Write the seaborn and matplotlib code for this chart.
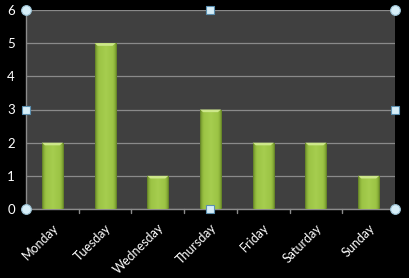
import numpy as np
import pandas as pd
import matplotlib
matplotlib.use("Agg")
import matplotlib.pyplot as plt
import seaborn as sns
from matplotlib.colors import LinearSegmentedColormap

days = ["Monday", "Tuesday", "Wednesday", "Thursday", "Friday", "Saturday", "Sunday"]
values = [2, 5, 1, 3, 2, 2, 1]
y_ticks = [0, 1, 2, 3, 4, 5, 6]

sns.set_theme(style="dark")
plt.rcParams['font.family'] = ['Lato', 'DejaVu Sans']

df = pd.DataFrame({"day": days, "value": values})

fig = plt.figure(figsize=(4.10, 2.78), dpi=100, facecolor="black")
ax = fig.add_axes([26/410, 1-209/278, 369/410, 199/278])
ax.set_facecolor("#404040")

sns.barplot(data=df, x="day", y="value", ax=ax, width=0.4, color="#9ec646",
            saturation=1, edgecolor="none", zorder=3)

ax.set_ylim(0, 6)
ax.set_xlim(-0.5, len(days) - 0.5)
ax.set_yticks(y_ticks)
ax.set_yticklabels([str(t) for t in y_ticks], color="white", fontsize=9.5)
ax.set_xticks(range(len(days)))
ax.set_xticklabels(days, rotation=45, ha="right", rotation_mode="anchor",
                   color="white", fontsize=9)
ax.tick_params(axis="x", length=0, pad=9)
ax.tick_params(axis="y", length=0, pad=8)
ax.set_xlabel("")
ax.set_ylabel("")
ax.yaxis.grid(True, color="#8a8a8a", linewidth=0.9, zorder=1)
ax.xaxis.grid(False)
ax.set_axisbelow(True)
for s in ax.spines.values():
    s.set_visible(False)
ax.spines["left"].set_visible(True)
ax.spines["bottom"].set_visible(True)
ax.spines["left"].set_color("#8c8c8c")
ax.spines["bottom"].set_color("#8c8c8c")
ax.spines["left"].set_linewidth(1)
ax.spines["bottom"].set_linewidth(1)

# category boundary tick marks (Excel style)
for b in np.arange(0.5, len(days) - 0.5, 1.0):
    ax.plot([b, b], [0, -0.12], color="#8c8c8c", lw=1, clip_on=False, zorder=4)

# gradient fill on bars
cmap = LinearSegmentedColormap.from_list(
    "g", [(0.0, "#5d7a24"), (0.08, "#88ad38"), (0.18, "#9cc445"),
          (0.5, "#a6cd4f"), (0.82, "#9cc445"), (0.92, "#88ad38"), (1.0, "#5d7a24")])
grad = np.linspace(0, 1, 128).reshape(1, -1)
for p in ax.patches:
    x0, y0 = p.get_x(), p.get_y()
    w, h = p.get_width(), p.get_height()
    if h <= 0:
        continue
    im = ax.imshow(grad, cmap=cmap, extent=[x0, x0 + w, y0, y0 + h],
                   aspect="auto", zorder=4, interpolation="bilinear")
    im.set_clip_path(p)
    # top bevel
    bev = 0.08
    ax.fill([x0, x0 + w, x0 + w * 0.85, x0 + w * 0.15],
            [y0 + h, y0 + h, y0 + h - bev, y0 + h - bev],
            color="#cde78a", zorder=5, lw=0)

ax.set_xlim(-0.5, len(days) - 0.5)
ax.set_ylim(0, 6)

# selection handles
circ = [(0, 0), (1, 0), (0, 1), (1, 1)]
sq = [(0.5, 0), (0.5, 1), (0, 0.5), (1, 0.5)]
for (cx, cy) in circ:
    ax.plot(cx, cy, marker="o", ms=7, mfc="#d6eef8", mec="#9cc3d5", mew=0.8,
            transform=ax.transAxes, clip_on=False, zorder=10)
for (cx, cy) in sq:
    ax.plot(cx, cy, marker="s", ms=5.5, mfc="#d6eef8", mec="#5a8fb0", mew=0.8,
            transform=ax.transAxes, clip_on=False, zorder=10)

fig.savefig("out.png", dpi=100, facecolor="black")
